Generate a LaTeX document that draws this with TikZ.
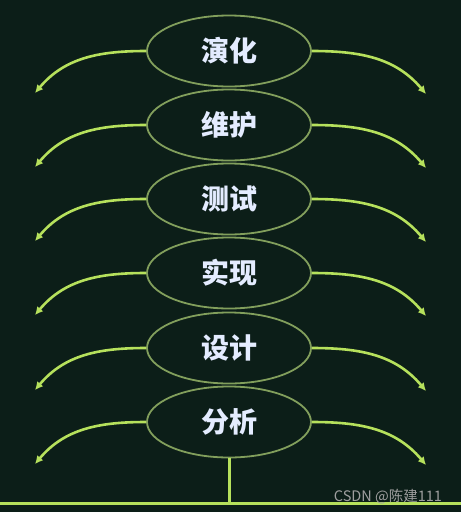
\documentclass[tikz,border=0pt]{standalone}
\usepackage{fontspec}
\newfontfamily\cjk{Noto Sans CJK SC}
\usepackage{tikz}
\usetikzlibrary{shapes.geometric}
\usetikzlibrary{arrows.meta}
\definecolor{board}{HTML}{0C1E18}
\definecolor{rim}{HTML}{829F5C}
\definecolor{chalk}{HTML}{B6E15C}
\definecolor{word}{HTML}{E4ECFF}
\tikzstyle{phase}=[draw=rim,line width=1.8pt,ellipse,minimum width=164pt,minimum height=71pt,inner sep=0pt,text=word,font=\cjk\bfseries\fontsize{28}{28}\selectfont]
\tikzstyle{flow}=[draw=chalk,line width=2.6pt,-{Latex[length=8pt,width=8pt]}]

\begin{document}
\begin{tikzpicture}[x=1pt,y=-1pt]

      \fill[board] (0,0) rectangle (461,512);
      \useasboundingbox (0,0) rectangle (461,512);

      \node[phase] (yanhua) at (229,51) {演化};
      \node[phase] (weihu) at (229,125) {维护};
      \node[phase] (ceshi) at (229,199) {测试};
      \node[phase] (shixian) at (229,273) {实现};
      \node[phase] (sheji) at (229,348) {设计};
      \node[phase] (fenxi) at (229,422) {分析};

      \coordinate (yanhua l) at (35,93);
      \coordinate (yanhua r) at (426,94);
      \coordinate (weihu l) at (35,167);
      \coordinate (weihu r) at (426,168);
      \coordinate (ceshi l) at (35,241);
      \coordinate (ceshi r) at (426,242);
      \coordinate (shixian l) at (35,315);
      \coordinate (shixian r) at (426,316);
      \coordinate (sheji l) at (35,390);
      \coordinate (sheji r) at (426,391);
      \coordinate (fenxi l) at (35,464);
      \coordinate (fenxi r) at (426,465);

      \draw[flow] (yanhua.west) to[out=180,in=50] (yanhua l);
      \draw[flow] (yanhua.east) to[out=0,in=130] (yanhua r);
      \draw[flow] (weihu.west) to[out=180,in=50] (weihu l);
      \draw[flow] (weihu.east) to[out=0,in=130] (weihu r);
      \draw[flow] (ceshi.west) to[out=180,in=50] (ceshi l);
      \draw[flow] (ceshi.east) to[out=0,in=130] (ceshi r);
      \draw[flow] (shixian.west) to[out=180,in=50] (shixian l);
      \draw[flow] (shixian.east) to[out=0,in=130] (shixian r);
      \draw[flow] (sheji.west) to[out=180,in=50] (sheji l);
      \draw[flow] (sheji.east) to[out=0,in=130] (sheji r);
      \draw[flow] (fenxi.west) to[out=180,in=50] (fenxi l);
      \draw[flow] (fenxi.east) to[out=0,in=130] (fenxi r);

      \coordinate (ground l) at (0,503);
      \coordinate (ground r) at (461,503);
      \coordinate (ground m) at (229,503);
      \draw[chalk,line width=3pt] (ground l) -- (ground r);
      \draw[chalk,line width=3pt] (fenxi.south) -- (ground m);

      \node[text=gray!75,font=\cjk\fontsize{14.5}{14.5}\selectfont] (mark) at (388,497) {CSDN @陈建111};

    \end{tikzpicture}
\end{document}
